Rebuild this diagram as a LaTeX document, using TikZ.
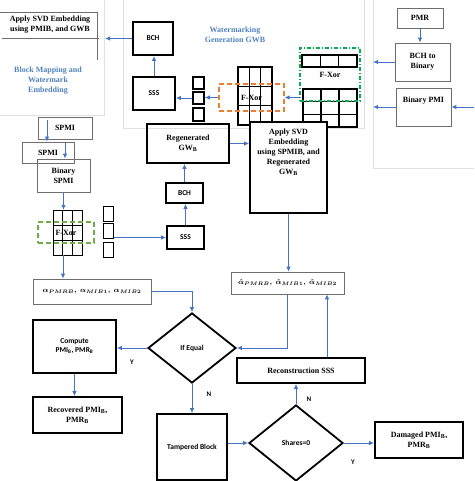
\documentclass[tikz,border=0pt]{standalone}
\usepackage{fontspec}
\setmainfont{Liberation Serif}
\newfontfamily\calibri{Carlito}
\usetikzlibrary{shapes.geometric}
\usetikzlibrary{arrows.meta}
\usetikzlibrary{calc}

\definecolor{arrowblue}{RGB}{68,114,196}
\definecolor{textblue}{RGB}{79,129,189}
\definecolor{xororange}{RGB}{237,125,49}
\definecolor{xorgreen}{RGB}{0,176,80}
\definecolor{xorolive}{RGB}{112,173,71}
\definecolor{boxgray}{RGB}{110,110,110}
\definecolor{framegray}{RGB}{225,225,225}

\begin{document}
\begin{tikzpicture}[x=1pt,y=-1pt,
    flow/.style={-{Latex[length=5pt,width=4.5pt]}, draw=arrowblue, line width=0.9pt},
    thickbox/.style={draw, line width=1.8pt, inner sep=0pt, align=center},
    thinbox/.style={draw=boxgray, line width=0.8pt, inner sep=0pt, align=center},
    cell/.style={draw, line width=1.5pt},
    serif/.style={font=\fontsize{8}{10}\selectfont\bfseries},
    sans/.style={font=\calibri\fontsize{7.5}{9}\selectfont\bfseries},
    bluetext/.style={text=textblue, align=center, font=\fontsize{8}{10}\selectfont\bfseries},
    lbl/.style={font=\calibri\fontsize{7}{8}\selectfont\bfseries}]

    \useasboundingbox (0,0) rectangle (474,481);

    % faint panel frames
    \draw[framegray, line width=0.6pt] (0,115) -- (104,115) -- (104,0);
    \draw[framegray, line width=0.6pt] (123,0) -- (123,128) -- (364,128) -- (364,0);
    \draw[framegray, line width=0.6pt] (373,0) -- (373,168) -- (474,168);
    \coordinate (lframe) at (105,0);
    \coordinate (rframe) at (373,0);

    % top left
    \draw[boxgray, line width=0.8pt] (0,12) -- (97,12) -- (97,60);
    \draw[boxgray, line width=0.8pt] (2,38) -- (99,38);
    \node[serif, align=center] (svdtop) at (50,25) {Apply SVD Embedding\\using PMIB, and GWB};
    \node[bluetext] (mapping) at (48,81) {Block Mapping and\\Watermark\\Embedding};
    \node[bluetext] (generation) at (235,35) {Watermarking\\Generation GWB};

    \node[thickbox, sans, minimum width=40pt, minimum height=33pt] (bch) at (153,38.5) {BCH};
    \node[thickbox, sans, minimum width=42pt, minimum height=33pt] (sss) at (154,93.5) {SSS};
    \draw[flow] (sss.north) -- (sss.north |- bch.south);
    \draw[flow] (bch.west) -- (bch.west -| lframe);

    % shares stack
    \foreach \yc/\h/\n in {83/12/1,98/12/2,114.5/13/3}
        \node[cell, inner sep=0pt, minimum width=11pt, minimum height=\h pt] (stack\n) at (198.5,\yc) {};
    \draw[flow] (stack2.west) -- (stack2.west -| sss.east);

    % middle grid with F-Xor
    \foreach \i in {0,1,2}
        \foreach \j in {0,1,2}
            \draw[cell] ({238+\i*11.33},{67+\j*19.33}) rectangle ++(11.33,19.33);
    \node[draw=xororange, dash pattern=on 5pt off 3pt, line width=1.2pt,
          minimum width=65pt, minimum height=27pt, serif] (orangexor) at (251.5,97.5) {F-Xor};
    \draw[flow] (orangexor.west) -- (orangexor.west -| stack2.east);

    % green F-Xor block
    \foreach \i in {0,1,2}
        \draw[cell] ({302+\i*18.33},55) rectangle ++(18.33,12);
    \foreach \i in {0,1,2}
        \foreach \j in {0,1,2}
            \draw[cell] ({303+\i*18},{89+\j*12.67}) rectangle ++(18,12.67);
    \node[draw=xorgreen, dash pattern=on 4pt off 2pt on 1pt off 2pt, line width=1.3pt,
          minimum width=60pt, minimum height=53pt] (greenxor) at (330,74.5) {};
    \node[serif] (greenxortext) at (330,75) {F-Xor};
    \draw[flow] (greenxor.west |- orangexor.east) -- (orangexor.east);

    % right panel
    \node[thinbox, serif, minimum width=46pt, minimum height=20pt] (pmr) at (420,18) {PMR};
    \node[thinbox, serif, minimum width=55pt, minimum height=38pt] (bchbin) at (422.5,62) {BCH to\\Binary};
    \node[thinbox, serif, minimum width=55pt, text height=15pt, text depth=23pt] (binpmi) at (423.5,107) {Binary PMI};
    \coordinate (rightedge) at (474,107);
    \draw[flow] (pmr.south) -- (pmr.south |- bchbin.north);
    \draw[flow] (bchbin.west) -- (bchbin.west -| rframe);
    \draw[flow] (binpmi.west) -- (binpmi.west -| rframe);
    \draw[flow] (rightedge) -- (binpmi.east);

    % regeneration column
    \node[thickbox, serif, minimum width=82pt, minimum height=39pt] (regen) at (188,143.5) {Regenerated\\GW\textsubscript{B}};
    \node[thickbox, sans, minimum width=37pt, minimum height=20pt] (bch2) at (184.5,193) {BCH};
    \node[thickbox, sans, minimum width=37pt, minimum height=23pt] (sss2) at (185.5,237.5) {SSS};
    \draw[flow] (sss2.north) -- (sss2.north |- bch2.south);
    \draw[flow] (bch2.north) -- (bch2.north |- regen.south);

    \node[thickbox, fill=white, minimum width=77pt, minimum height=91pt] (svd2) at (288.5,167.5) {};
    \node[serif, align=center, anchor=north] (svd2text) at ([yshift=-4pt]svd2.north)
        {Apply SVD\\Embedding\\using SPMIB, and\\Regenerated\\GW\textsubscript{B}};
    \draw[flow] (regen.east) -- (regen.east -| svd2.west);

    % left column
    \node[thinbox, serif, minimum width=54pt, minimum height=22pt] (spmia) at (65,128) {SPMI};
    \node[thinbox, serif, minimum width=52pt, minimum height=21pt] (spmib) at (48,152.5) {SPMI};
    \node[thinbox, serif, minimum width=53pt, minimum height=33pt] (binspmi) at (63.5,175.5) {Binary\\SPMI};
    \draw[flow] ([xshift=-18pt,yshift=-3pt]spmia.north) coordinate (ta) -- (ta |- spmib.north);
    \draw[flow] ([xshift=17pt,yshift=-1pt]spmib.north) coordinate (tb) -- (tb |- binspmi.north);

    \foreach \i in {0,1,2}
        \foreach \j in {0,1,2}
            \draw[draw, line width=1pt] ({53+\i*9.67},{210+\j*15}) rectangle ++(9.67,15);
    \coordinate (lgridtop) at (63,210);
    \coordinate (lgridbot) at (63,255);
    \node[draw=xorolive, dash pattern=on 5pt off 3pt, line width=1.2pt,
          minimum width=56pt, minimum height=21pt, serif] (olivexor) at (66,232.5) {F-Xor};
    \draw[flow] (binspmi.south) -- (binspmi.south |- lgridtop);

    \foreach \yc/\n in {213.5/1,230.5/2,249.5/3}
        \node[draw, line width=1pt, inner sep=0pt, minimum width=10pt, minimum height=15pt] (lstack\n) at (108,\yc) {};
    \draw[flow] (lstack2.east |- sss2.west) -- (sss2.west);

    % coefficients
    \node[thinbox, minimum width=118pt, minimum height=25pt, font=\fontsize{7}{8}\selectfont\boldmath]
        (alpha) at (92,291.5) {$\alpha_{PMRB},\ \alpha_{MIB1},\ \alpha_{MIB2}$};
    \node[thinbox, minimum width=113pt, minimum height=22pt, font=\fontsize{7}{8}\selectfont\boldmath]
        (ahat) at (287.5,283) {$\hat{\alpha}_{PMRB},\ \hat{\alpha}_{MIB1},\ \hat{\alpha}_{MIB2}$};
    \draw[flow] (lgridbot) -- (lgridbot |- alpha.north);
    \draw[flow] (svd2.south) -- (svd2.south |- ahat.north);

    % decision part
    \node[thickbox, diamond, sans, minimum width=88pt, minimum height=70pt] (equal) at (192,348) {If Equal};
    \node[thickbox, sans, minimum width=83pt, minimum height=53pt] (compute) at (74.5,346.5) {Compute\\PMI\textsubscript{B}, PMR\textsubscript{B}};
    \node[thickbox, serif, minimum width=89pt, minimum height=36pt] (recovered) at (77.5,415) {Recovered PMI\textsubscript{B},\\PMR\textsubscript{B}};
    \node[thickbox, sans, minimum width=70pt, minimum height=66pt] (tampered) at (192,447) {Tampered Block};
    \node[thickbox, diamond, sans, minimum width=94pt, minimum height=76pt] (shares) at (296,443) {Shares=0};
    \node[thickbox, serif, minimum width=128pt, minimum height=25pt] (recon) at (301,370.5) {Reconstruction SSS};
    \node[thickbox, serif, minimum width=88pt, minimum height=36pt] (damaged) at (419,440) {Damaged PMI\textsubscript{B},\\PMR\textsubscript{B}};

    \draw[flow] (alpha.east) -| (equal.north);
    \draw[flow] (ahat.south) |- (equal.east);
    \draw[flow] (equal.west) -- (equal.west -| compute.east);
    \draw[flow] (compute.south) -- (compute.south |- recovered.north);
    \draw[flow] (equal.south) -- (tampered.north);
    \draw[flow] (tampered.east |- shares.west) -- (shares.west);
    \draw[flow] (shares.north) -- (shares.north |- recon.south);
    \draw[flow] ([xshift=26pt]recon.north) coordinate (tr) -- (tr |- ahat.south);
    \draw[flow] (shares.east) -- (shares.east -| damaged.west);

    \node[lbl] (yequal) at (132,362) {Y};
    \node[lbl] (nequal) at (209,394) {N};
    \node[lbl] (nshares) at (309,399) {N};
    \node[lbl] (yshares) at (353,462) {Y};
\end{tikzpicture}
\end{document}
